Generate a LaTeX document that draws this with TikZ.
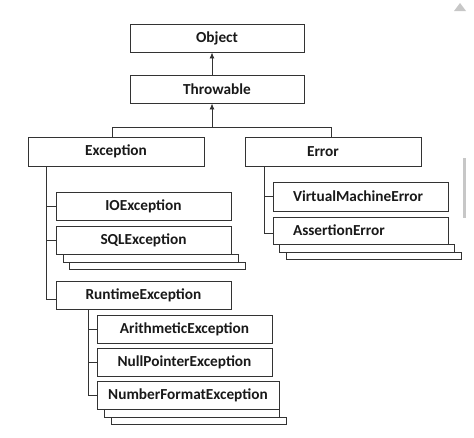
\documentclass[tikz,border=0pt]{standalone}
\usepackage{fontspec}
\setmainfont{Carlito}
\usetikzlibrary{arrows.meta}
\begin{document}
\begin{tikzpicture}[x=1pt,y=-1pt,
  box/.style={draw=black!80, line width=0.9pt, fill=white, inner sep=0pt,
    minimum width=175pt, minimum height=28pt,
    font=\fontsize{15.3}{18}\selectfont\bfseries, text=black!90},
  lbox/.style={box, text width=175pt, align=left},
  shadowbox/.style={draw=black!80, line width=0.9pt, fill=white},
  link/.style={draw=black!80, line width=0.9pt},
  arr/.style={link, -{Latex[length=6pt,width=5pt]}},
  ui/.style={fill=black!22, draw=none}]
\useasboundingbox (0,0) rectangle (474,437);
% screenshot scroll widgets
\fill[ui] (454,11) -- (466,11) -- (460,3) -- cycle;
\fill[ui] (463,158) rectangle (466,218);
% stacked shadow boxes
\draw[shadowbox] (69,262) rectangle (245,269);
\draw[shadowbox] (63,254) rectangle (238,262);
\draw[shadowbox] (111,417) rectangle (286,424);
\draw[shadowbox] (104,409) rectangle (279,417);
\draw[shadowbox] (286,252) rectangle (461,259);
\draw[shadowbox] (279,244) rectangle (454,252);
% boxes
\node[box, minimum width=174pt] (obj) at (217,38) {Object};
\node[box, minimum width=174pt] (thr) at (217,89) {Throwable};
\node[box, minimum width=176pt, minimum height=29pt] (exc) at (116,151.5) {Exception};
\node[box, minimum width=176pt, minimum height=29pt] (err) at (333,151.5) {\hspace*{-20pt}Error};
\node[box] (io) at (143.5,206) {IOException};
\node[box] (sql) at (143.5,240) {SQLException};
\node[box] (rt) at (143.5,295) {RuntimeException};
\node[box] (ar) at (184.5,329) {ArithmeticException};
\node[box] (np) at (184.5,362) {NullPointerException};
\node[box, minimum width=182pt] (nf) at (188,395) {NumberFormatException};
\node[lbox, minimum height=29pt] (vme) at (360.5,196.5) {\hspace*{20pt}VirtualMachineError};
\node[lbox, minimum height=27pt] (as) at (360.5,230.5) {\hspace*{20pt}AssertionError};
% connectors
\coordinate (bt) at (212,127);
\coordinate (bl) at (112,127);
\coordinate (br) at (331,127);
\draw[arr] (bt) -- (bt |- thr.south);
\draw[arr] (bt |- thr.north) -- (bt |- obj.south);
\draw[link] (bl |- exc.north) -- (bl) -- (br) -- (br |- err.north);
\coordinate (et) at (46,0);
\coordinate (etend) at (46,299);
\draw[link] (et |- exc.south) -- (etend) -- (etend -| rt.west);
\draw[link] (et |- io.west) -- (io.west);
\draw[link] (et |- sql.west) -- (sql.west);
\coordinate (rtt) at (88,0);
\draw[link] (rtt |- rt.south) -- (rtt |- nf.west) -- (nf.west);
\draw[link] (rtt |- ar.west) -- (ar.west);
\draw[link] (rtt |- np.west) -- (np.west);
\coordinate (ett) at (264,0);
\coordinate (ettend) at (264,233);
\draw[link] (ett |- err.south) -- (ettend) -- (ettend -| as.west);
\draw[link] (ett |- vme.west) -- (vme.west);
\end{tikzpicture}
\end{document}
